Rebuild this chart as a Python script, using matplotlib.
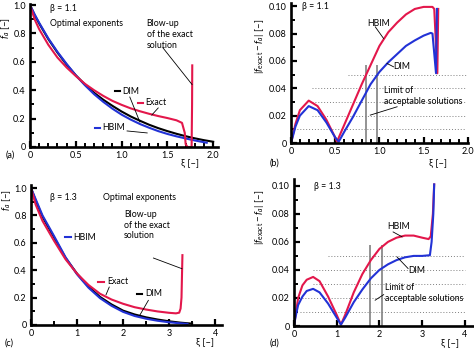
import matplotlib
matplotlib.use("Agg")
import matplotlib.pyplot as plt
from matplotlib.ticker import MultipleLocator

plt.rcParams['font.family'] = ['Lato', 'DejaVu Sans']
plt.rcParams['font.size'] = 6.5
plt.rcParams['mathtext.fontset'] = 'custom'
plt.rcParams['mathtext.it'] = 'Lato:italic'
plt.rcParams['mathtext.rm'] = 'Lato'

RED = '#e3174b'
BLUE = '#2232d6'
GRAY = '#808080'
ANN = 6.3  # annotation font size

# ---- panel (a): beta = 1.1, profiles
xi_a_dim = [0, 0.05, 0.1, 0.2, 0.3, 0.4, 0.5, 0.6, 0.7, 0.8, 0.9, 1.0, 1.1, 1.2, 1.3, 1.4, 1.5, 1.6, 1.7, 1.8, 1.9, 2.0]
f_a_dim = [1.0, 0.93, 0.87, 0.76, 0.665, 0.58, 0.505, 0.44, 0.382, 0.333, 0.29, 0.25, 0.215, 0.185, 0.157, 0.133, 0.112, 0.093, 0.076, 0.061, 0.048, 0.037]
xi_a_hbim = [0, 0.05, 0.1, 0.2, 0.3, 0.4, 0.5, 0.6, 0.7, 0.8, 0.9, 1.0, 1.1, 1.2, 1.3, 1.4, 1.5, 1.6, 1.7, 1.8, 1.93]
f_a_hbim = [1.0, 0.935, 0.875, 0.765, 0.67, 0.585, 0.505, 0.435, 0.372, 0.318, 0.27, 0.228, 0.193, 0.162, 0.136, 0.112, 0.092, 0.075, 0.06, 0.046, 0.03]
xi_a_exact = [0, 0.05, 0.1, 0.2, 0.3, 0.4, 0.5, 0.6, 0.7, 0.8, 0.9, 1.0, 1.1, 1.2, 1.3, 1.4, 1.5, 1.6, 1.66, 1.69, 1.7, 1.72, 1.765, 1.77, 1.772]
f_a_exact = [1.0, 0.9, 0.83, 0.72, 0.63, 0.56, 0.5, 0.445, 0.4, 0.36, 0.325, 0.297, 0.272, 0.252, 0.234, 0.218, 0.204, 0.188, 0.17, 0.1, 0.02, 0.0, 0.0, 0.3, 0.575]

# ---- panel (b): beta = 1.1, errors
xi_b_hbim = [0, 0.05, 0.1, 0.2, 0.3, 0.4, 0.5, 0.52, 0.6, 0.7, 0.8, 0.9, 1.0, 1.1, 1.2, 1.3, 1.4, 1.5, 1.6, 1.62, 1.655, 1.665]
err_b_hbim = [0, 0.014, 0.024, 0.031, 0.027, 0.017, 0.004, 0.001, 0.013, 0.028, 0.043, 0.057, 0.071, 0.081, 0.088, 0.094, 0.098, 0.0995, 0.0995, 0.098, 0.051, 0.098]
xi_b_dim = [0, 0.05, 0.1, 0.2, 0.3, 0.4, 0.5, 0.54, 0.6, 0.7, 0.8, 0.9, 1.0, 1.1, 1.2, 1.3, 1.4, 1.5, 1.58, 1.6, 1.64, 1.65]
err_b_dim = [0, 0.012, 0.02, 0.027, 0.024, 0.015, 0.004, 0.001, 0.008, 0.019, 0.031, 0.043, 0.052, 0.059, 0.065, 0.071, 0.075, 0.0785, 0.0805, 0.08, 0.051, 0.098]
limit_b = [0.85, 0.97]

# ---- panel (c): beta = 1.3, profiles
xi_c_dim = [0, 0.1, 0.25, 0.5, 0.75, 1.0, 1.25, 1.5, 1.75, 2.0, 2.25, 2.5, 2.75, 3.0, 3.25, 3.5]
f_c_dim = [1.0, 0.91, 0.79, 0.64, 0.49, 0.375, 0.28, 0.205, 0.15, 0.105, 0.077, 0.056, 0.04, 0.027, 0.017, 0.01]
xi_c_hbim = [0, 0.1, 0.25, 0.5, 0.75, 1.0, 1.25, 1.5, 1.75, 2.0, 2.25, 2.5, 2.75, 3.0, 3.25, 3.4]
f_c_hbim = [1.0, 0.92, 0.8, 0.65, 0.495, 0.37, 0.272, 0.196, 0.14, 0.096, 0.066, 0.046, 0.031, 0.02, 0.012, 0.008]
xi_c_exact = [0, 0.1, 0.25, 0.5, 0.75, 1.0, 1.25, 1.5, 1.75, 2.0, 2.25, 2.5, 2.75, 3.0, 3.15, 3.22, 3.25, 3.27, 3.29]
f_c_exact = [1.0, 0.88, 0.76, 0.615, 0.48, 0.375, 0.292, 0.228, 0.186, 0.155, 0.13, 0.113, 0.099, 0.089, 0.085, 0.09, 0.12, 0.2, 0.51]

# ---- panel (d): beta = 1.3, errors
xi_d_hbim = [0, 0.05, 0.1, 0.2, 0.3, 0.45, 0.6, 0.8, 1.0, 1.1, 1.2, 1.4, 1.6, 1.8, 2.0, 2.2, 2.4, 2.6, 2.8, 3.0, 3.15, 3.2, 3.25, 3.28]
err_d_hbim = [0, 0.01, 0.02, 0.029, 0.033, 0.035, 0.032, 0.021, 0.008, 0.001, 0.008, 0.024, 0.037, 0.047, 0.055, 0.06, 0.063, 0.0645, 0.0645, 0.063, 0.062, 0.064, 0.08, 0.101]
xi_d_dim = [0, 0.05, 0.1, 0.2, 0.3, 0.45, 0.6, 0.8, 1.0, 1.1, 1.2, 1.4, 1.6, 1.8, 2.0, 2.2, 2.4, 2.6, 2.8, 3.0, 3.18, 3.22, 3.26, 3.28]
err_d_dim = [0, 0.008, 0.015, 0.021, 0.025, 0.0265, 0.024, 0.016, 0.006, 0.001, 0.006, 0.017, 0.026, 0.034, 0.04, 0.044, 0.047, 0.049, 0.05, 0.05, 0.0505, 0.06, 0.08, 0.101]
limit_d = [1.78, 2.06]

# dotted reference levels in the error plots
levels = [0.01, 0.02, 0.03, 0.04, 0.05]
level_start_b = [0.03, 0.24, 0.24, 0.24, 0.65]
level_start_d = [0.15, 0.2, 0.45, 0.45, 0.8]


def style_axes(ax, xmajor, xminor, ymajor, yminor):
    for s in ['top', 'right']:
        ax.spines[s].set_visible(False)
    for s in ['left', 'bottom']:
        ax.spines[s].set_linewidth(1.9)
    ax.xaxis.set_major_locator(MultipleLocator(xmajor))
    ax.xaxis.set_minor_locator(MultipleLocator(xminor))
    ax.yaxis.set_major_locator(MultipleLocator(ymajor))
    ax.yaxis.set_minor_locator(MultipleLocator(yminor))
    ax.tick_params(which='major', direction='in', length=4, width=1.6, labelsize=6.5, pad=3)
    ax.tick_params(which='minor', direction='in', length=3, width=1.4)


def label_dash(ax, x0, x1, y, text, color):
    ax.plot([x0, x1], [y, y], color=color, lw=1.5)
    ax.text(x1 + (x1 - x0) * 0.5, y, text, ha='left', va='center', fontsize=ANN)


def leader(ax, p0, p1):
    ax.plot([p0[0], p1[0]], [p0[1], p1[1]], color='black', lw=0.6)


def fmt(v, nd):
    return '0' if v == 0 else f'{v:.{nd}f}'


fig = plt.figure(figsize=(4.74, 3.48), dpi=100)
ax_a = fig.add_axes([0.0633, 0.5776, 0.396, 0.412])
ax_b = fig.add_axes([0.614, 0.589, 0.373, 0.401])
ax_c = fig.add_axes([0.0654, 0.0661, 0.402, 0.403])
ax_d = fig.add_axes([0.620, 0.0632, 0.379, 0.423])

# (a)
ax_a.plot(xi_a_dim, f_a_dim, color='black', lw=1.5)
ax_a.plot(xi_a_hbim, f_a_hbim, color=BLUE, lw=1.5)
ax_a.plot(xi_a_exact, f_a_exact, color=RED, lw=1.5)
ax_a.set_xlim(0, 2.05)
ax_a.set_ylim(0, 1.01)
style_axes(ax_a, 0.5, 0.1, 0.2, 0.1)
ax_a.set_xticks([0, 0.5, 1.0, 1.5, 2.0], [fmt(v, 1) for v in [0, 0.5, 1.0, 1.5, 2.0]])
ax_a.set_yticks([0, 0.2, 0.4, 0.6, 0.8, 1.0], [fmt(v, 1) for v in [0, 0.2, 0.4, 0.6, 0.8, 1.0]])
ax_a.text(0.22, 0.975, 'β = 1.1', va='center', fontsize=ANN)
ax_a.text(0.22, 0.87, 'Optimal exponents', va='center', fontsize=ANN)
ax_a.text(1.275, 0.90, 'Blow-up\nof the exact\nsolution', va='top', linespacing=1.25, fontsize=ANN)
leader(ax_a, (1.45, 0.70), (1.77, 0.44))
label_dash(ax_a, 0.93, 0.98, 0.394, 'DIM', 'black')
leader(ax_a, (1.09, 0.352), (1.20, 0.176))
label_dash(ax_a, 1.18, 1.235, 0.31, 'Exact', RED)
leader(ax_a, (1.40, 0.275), (1.33, 0.225))
label_dash(ax_a, 0.71, 0.765, 0.134, 'HBIM', BLUE)
leader(ax_a, (1.06, 0.113), (1.28, 0.099))

# (b)
for lv, st in zip(levels, level_start_b):
    ax_b.plot([st, 1.98], [lv, lv], color=GRAY, lw=0.7, ls=(0, (1, 2)))
ax_b.vlines(limit_b, 0, 0.057, color=GRAY, lw=1.2)
ax_b.plot(xi_b_hbim, err_b_hbim, color=RED, lw=1.5)
ax_b.plot(xi_b_dim, err_b_dim, color=BLUE, lw=1.5)
ax_b.set_xlim(0, 2.0)
ax_b.set_ylim(0, 0.102)
style_axes(ax_b, 0.5, 0.1, 0.02, 0.01)
ax_b.set_xticks([0, 0.5, 1.0, 1.5, 2.0], [fmt(v, 1) for v in [0, 0.5, 1.0, 1.5, 2.0]])
ax_b.set_yticks([0, 0.02, 0.04, 0.06, 0.08, 0.10], [fmt(v, 2) for v in [0, 0.02, 0.04, 0.06, 0.08, 0.10]])
ax_b.text(0.124, 0.1, 'β = 1.1', va='center', fontsize=ANN)
ax_b.text(0.86, 0.0874, 'HBIM', va='center', fontsize=ANN)
leader(ax_b, (0.953, 0.0849), (1.047, 0.0764))
ax_b.text(1.16, 0.0557, 'DIM', va='center', fontsize=ANN)
leader(ax_b, (1.085, 0.0582), (1.16, 0.0557))
ax_b.text(1.047, 0.0418, 'Limit of\nacceptable solutions', va='top', linespacing=1.25, fontsize=ANN)
leader(ax_b, (1.20, 0.0265), (0.896, 0.0204))

# (c)
ax_c.plot(xi_c_dim, f_c_dim, color='black', lw=1.5)
ax_c.plot(xi_c_hbim, f_c_hbim, color=BLUE, lw=1.5)
ax_c.plot(xi_c_exact, f_c_exact, color=RED, lw=1.5)
ax_c.set_xlim(0, 4.14)
ax_c.set_ylim(0, 1.024)
style_axes(ax_c, 1, 0.5, 0.2, 0.1)
ax_c.set_xticks([0, 1, 2, 3, 4], ['0', '1', '2', '3', '4'])
ax_c.set_yticks([0, 0.2, 0.4, 0.6, 0.8, 1.0], [fmt(v, 1) for v in [0, 0.2, 0.4, 0.6, 0.8, 1.0]])
ax_c.text(0.41, 0.934, 'β = 1.3', va='center', fontsize=ANN)
ax_c.text(1.57, 0.934, 'Optimal exponents', va='center', fontsize=ANN)
label_dash(ax_c, 0.74, 0.86, 0.642, 'HBIM', BLUE)
ax_c.text(2.02, 0.84, 'Blow-up\nof the exact\nsolution', va='top', linespacing=1.25, fontsize=ANN)
leader(ax_c, (2.66, 0.489), (3.28, 0.411))
label_dash(ax_c, 1.46, 1.59, 0.314, 'Exact', RED)
leader(ax_c, (1.70, 0.277), (1.63, 0.221))
label_dash(ax_c, 2.30, 2.42, 0.229, 'DIM', 'black')
leader(ax_c, (2.55, 0.18), (2.37, 0.075))

# (d)
for lv, st in zip(levels, level_start_d):
    ax_d.plot([st, 4.0], [lv, lv], color=GRAY, lw=0.7, ls=(0, (1, 2)))
ax_d.vlines(limit_d, 0, 0.058, color=GRAY, lw=1.2)
ax_d.plot(xi_d_hbim, err_d_hbim, color=RED, lw=1.5)
ax_d.plot(xi_d_dim, err_d_dim, color=BLUE, lw=1.5)
ax_d.set_xlim(0, 4.2)
ax_d.set_ylim(0, 0.105)
style_axes(ax_d, 1, 1, 0.02, 0.01)
ax_d.set_xticks([0, 1, 2, 3, 4], ['0', '1', '2', '3', '4'])
ax_d.set_yticks([0, 0.02, 0.04, 0.06, 0.08, 0.10], [fmt(v, 2) for v in [0, 0.02, 0.04, 0.06, 0.08, 0.10]])
ax_d.text(0.46, 0.0993, 'β = 1.3', va='center', fontsize=ANN)
ax_d.text(2.18, 0.0707, 'HBIM', va='center', fontsize=ANN)
leader(ax_d, (2.32, 0.0671), (2.53, 0.0636))
ax_d.text(2.68, 0.0398, 'DIM', va='center', fontsize=ANN)
leader(ax_d, (2.41, 0.0493), (2.67, 0.041))
ax_d.text(2.14, 0.0304, 'Limit of\nacceptable solutions', va='top', linespacing=1.25, fontsize=ANN)
leader(ax_d, (2.10, 0.0224), (1.90, 0.0184))

# axis titles
for ax, xy in [(ax_a, (-0.13, 0.83)), (ax_c, (-0.13, 0.89))]:
    ax.text(xy[0], xy[1], r'$f_a$ [–]', rotation=90, ha='center', va='center',
            transform=ax.transAxes, fontsize=7)
for ax, xy in [(ax_b, (-0.18, 0.69)), (ax_d, (-0.19, 0.74))]:
    ax.text(xy[0], xy[1], r'$|f_{\mathrm{exact}} - f_a|$ [–]', rotation=90, ha='center', va='center',
            transform=ax.transAxes, fontsize=7)
for ax, xy in [(ax_a, (0.853, -0.11)), (ax_b, (0.834, -0.14)), (ax_c, (0.912, -0.12)), (ax_d, (0.87, -0.115))]:
    ax.text(xy[0], xy[1], 'ξ [–]', ha='center', va='center', transform=ax.transAxes, fontsize=7)

fig.text(10 / 474, 1 - 155 / 348, '(a)', ha='center', va='center', fontsize=6.5)
fig.text(274 / 474, 1 - 163 / 348, '(b)', ha='center', va='center', fontsize=6.5)
fig.text(9 / 474, 1 - 343 / 348, '(c)', ha='center', va='center', fontsize=6.5)
fig.text(274 / 474, 1 - 343 / 348, '(d)', ha='center', va='center', fontsize=6.5)

fig.savefig('out.png', dpi=100)
